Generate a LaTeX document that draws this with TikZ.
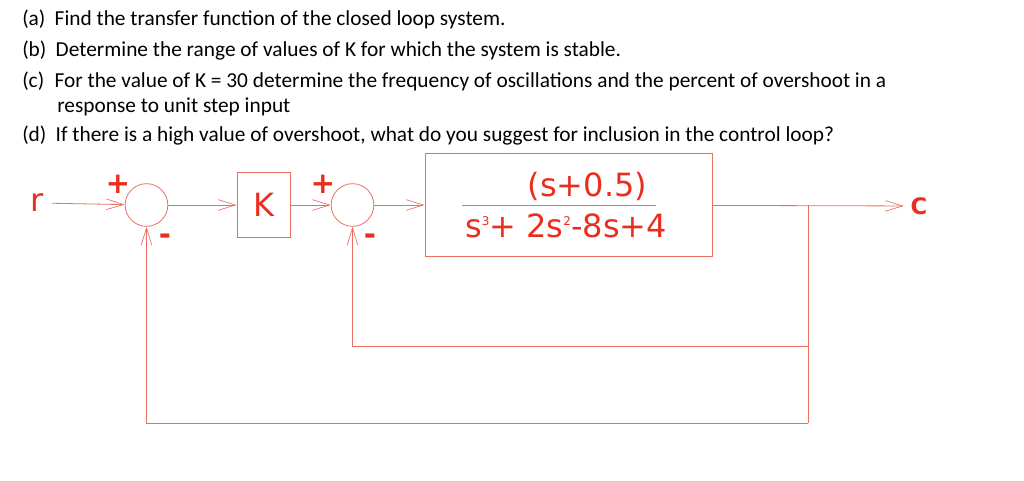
\documentclass[tikz,border=0pt]{standalone}
\usepackage{fontspec}
\setmainfont{Carlito}
\newfontfamily\blockfont{DejaVu Sans}
\usetikzlibrary{arrows.meta}
\definecolor{wirered}{RGB}{232,112,98}
\definecolor{labelred}{RGB}{235,45,30}
\newcommand{\tinysup}[1]{\raisebox{9pt}{\fontsize{9}{9}\selectfont #1}}

\begin{document}
\begin{tikzpicture}[x=0.75pt,y=-0.75pt,
  wire/.style={wirered, line width=0.6pt},
  sig/.style={wire, -{Straight Barb[length=13pt,width=8pt,line width=0.5pt]}},
  block/.style={draw=wirered, line width=0.6pt, inner sep=0pt, text=labelred,
    font=\blockfont\fontsize{24}{28}\selectfont},
  sumpt/.style={circle, draw=wirered, line width=0.6pt, minimum size=32pt, inner sep=0pt},
  lbl/.style={text=labelred, inner sep=0pt, font=\blockfont\fontsize{24}{28}\selectfont},
  sgn/.style={text=labelred, inner sep=0pt, font=\blockfont\bfseries\fontsize{22}{24}\selectfont},
  qline/.style={anchor=base west, inner sep=0pt, font=\fontsize{16}{19}\selectfont}]
\useasboundingbox (0,0) rectangle (1024,481);

% questions
\node[qline] (qa) at (22,26) {(a)\hspace{7pt}Find the transfer function of the closed loop system.};
\node[qline] (qb) at (22,57) {(b)\hspace{7pt}Determine the range of values of K for which the system is stable.};
\node[qline] (qc) at (22,87.5) {(c)\hspace{7.8pt}For the value of K = 30 determine the frequency of oscillations and the percent of overshoot in a};
\node[qline] (qc2) at (57,113) {response to unit step input};
\node[qline] (qd) at (22,142) {(d)\hspace{7pt}If there is a high value of overshoot, what do you suggest for inclusion in the control loop?};

% blocks
\node[lbl] (r) at (37,203) {r};
\node[sumpt] (s1) at (146.5,205) {};
\node[sgn] (p1) at (118,184) {+};
\node[sgn] (m1) at (165,239) {-};
\node[block, minimum width=39.75pt, minimum height=48.75pt] (k) at (263.5,205) {K};
\node[sumpt] (s2) at (352.5,205) {};
\node[sgn] (p2) at (323,184) {+};
\node[sgn] (m2) at (370,239) {-};
\node[block, minimum width=215.25pt, minimum height=77.25pt] (g) at (568.5,205) {};
\node[lbl] (num) at (587.5,186) {(s+0.5)};
\node[lbl] (den) at (566,226) {s\tinysup{3}+ 2s\tinysup{2}-8s+4};
\coordinate (fl) at (462,205);
\coordinate (fr) at (656,205);
\draw[wire] (fl) -- (fr);
\node[text=labelred, inner sep=0pt, font=\blockfont\bfseries\fontsize{17}{20}\selectfont] (c) at (919,206) {C};

\coordinate (br) at (808,205);
\coordinate (fb1) at (808,346);
\coordinate (fb2) at (808,423);

% signals
\draw[sig, shorten <=6pt] (r) -- (s1);
\draw[sig] (s1) -- (k);
\draw[sig] (k) -- (s2);
\draw[sig] (s2) -- (g);
\draw[sig, shorten >=5pt] (g) -- (c);
\draw[wire] (br) -- (fb2);
\draw[sig] (fb2) -| (s1);
\draw[sig] (fb1) -| (s2);

\end{tikzpicture}
\end{document}
